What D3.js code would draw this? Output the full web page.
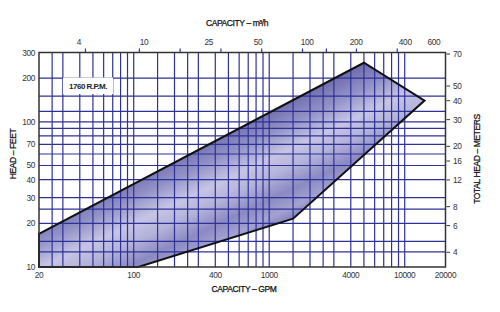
<!DOCTYPE html>
<meta charset="utf-8">
<html lang="en"></html>
<style>
  body { margin: 0; background: #fff; }
  text { font-family: "Liberation Sans", Arial, sans-serif; fill: #222; }
</style>
<script src="https://cdn.jsdelivr.net/npm/d3@7"></script>
<div id="chart"></div>
<script>
    // data
    const gpmTicks = [20, 100, 400, 1000, 4000, 10000, 20000];
    const gpmGrid = [25, 30, 40, 50, 60, 70, 80, 90, 100, 150, 200, 250, 300, 400, 500, 600, 700, 800, 900,
        1000, 1500, 2000, 2500, 3000, 4000, 5000, 6000, 7000, 8000, 9000, 10000];
    const feetTicks = [10, 20, 30, 40, 50, 70, 100, 200, 300];
    const feetGrid = [12.7, 15, 20, 25, 30, 40, 50, 60, 70, 80, 90, 100, 118, 150, 200];
    const meterTicks = [4, 6, 8, 12, 16, 20, 30, 40, 50, 70];
    const m3hTicks = [10, 25, 50, 100, 200, 400, 600, 1000, 2000];
    const m3hLabels = [4, 10, 25, 50, 100, 200, 400, 600];
    const gpmPerM3h = 4.403;

    // operating range outline (GPM, feet)
    const rangeGpm  = [20, 20, 5000, 14000, 1500, 108];
    const rangeFeet = [10, 16.9, 255, 140, 21.5, 10];

    const width = 500, height = 312;
    const pLeft = 39, pRight = 445.5, pTop = 52.5, pBottom = 267;

    const svg = d3.select("#chart")
        .append("svg")
            .attr("width", width)
            .attr("height", height);

    const x = d3.scaleLog().domain([20, 20000]).range([pLeft, pRight]);
    const y = d3.scaleLog().domain([10, 300]).range([pBottom, pTop]);
    // right axis of the original is not an exact conversion, fitted piecewise
    const yM = d3.scaleLog().domain([3.2, 50, 70]).range([pBottom, 86, pTop + 1.5]);
    // top labels sit on their own spacing in the original
    const xLabTop = d3.scaleLog().domain([4, 600]).range([79, 434]);

    // gradient fill
    const grad = svg.append("defs").append("linearGradient")
        .attr("id", "fill")
        .attr("gradientUnits", "userSpaceOnUse")
        .attr("x1", 200).attr("y1", 140)
        .attr("x2", 250).attr("y2", 245);
    [[0, "#6c6aab"], [0.2, "#9190c6"], [0.4, "#c6c5e5"], [0.55, "#b3b2da"],
     [0.72, "#8b89c2"], [0.86, "#a3a2d2"], [1, "#7472b2"]].forEach(function(s) {
        grad.append("stop").attr("offset", s[0]).attr("stop-color", s[1]);
    });

    const pts = rangeGpm.map(function(g, i) { return [x(g), y(rangeFeet[i])]; });
    const line = d3.line();

    svg.append("path")
        .attr("d", line(pts) + "Z")
        .attr("fill", "url(#fill)");

    // grid
    const gridColor = "#2e3196";
    svg.append("g").selectAll("line")
        .data(gpmGrid)
        .enter()
        .append("line")
            .attr("x1", function(d) { return x(d); })
            .attr("x2", function(d) { return x(d); })
            .attr("y1", pTop).attr("y2", pBottom)
            .attr("stroke", gridColor)
            .attr("stroke-width", 1.2);
    svg.append("g").selectAll("line")
        .data(feetGrid)
        .enter()
        .append("line")
            .attr("y1", function(d) { return y(d); })
            .attr("y2", function(d) { return y(d); })
            .attr("x1", pLeft).attr("x2", pRight)
            .attr("stroke", gridColor)
            .attr("stroke-width", 1.2);

    // outline of the range
    svg.append("path")
        .attr("d", line(pts) + "Z")
        .attr("fill", "none")
        .attr("stroke", "#111")
        .attr("stroke-width", 2)
        .attr("stroke-linejoin", "miter");

    // rpm label with white box
    svg.append("rect")
        .attr("x", 63).attr("y", 77.5)
        .attr("width", 50).attr("height", 16.5)
        .attr("fill", "#fff");
    svg.append("text")
        .text("1760 R.P.M.")
        .attr("x", 88).attr("y", 88.5)
        .attr("text-anchor", "middle")
        .style("font-size", "8px")
        .style("font-weight", "bold")
        .style("letter-spacing", "-0.5px");

    // frame
    svg.append("rect")
        .attr("x", pLeft).attr("y", pTop)
        .attr("width", pRight - pLeft).attr("height", pBottom - pTop)
        .attr("fill", "none")
        .attr("stroke", "#333")
        .attr("stroke-width", 1.5);

    const tickFont = function(sel) {
        sel.style("font-size", "8.3px").style("letter-spacing", "-0.35px").style("fill", "#333");
    };
    const titleFont = function(sel) {
        sel.style("font-size", "8.5px").style("letter-spacing", "-0.4px")
            .style("fill", "#111").style("stroke", "#111").style("stroke-width", "0.25px");
    };

    // bottom axis (GPM)
    svg.append("g").selectAll("text")
        .data(gpmTicks)
        .enter()
        .append("text")
            .text(function(d) { return d; })
            .attr("x", function(d) { return x(d); })
            .attr("y", 278)
            .attr("text-anchor", "middle")
            .call(tickFont);
    svg.append("text")
        .text("CAPACITY – GPM")
        .attr("x", 244).attr("y", 292)
        .attr("text-anchor", "middle")
        .call(titleFont);

    // top axis (m3/h)
    svg.append("g").selectAll("line")
        .data(m3hTicks)
        .enter()
        .append("line")
            .attr("x1", function(d) { return x(d * gpmPerM3h); })
            .attr("x2", function(d) { return x(d * gpmPerM3h); })
            .attr("y1", pTop - 4).attr("y2", pTop)
            .attr("stroke", gridColor)
            .attr("stroke-width", 1.2);
    svg.append("g").selectAll("text")
        .data(m3hLabels)
        .enter()
        .append("text")
            .text(function(d) { return d; })
            .attr("x", function(d) { return xLabTop(d); })
            .attr("y", 45)
            .attr("text-anchor", "middle")
            .call(tickFont);
    svg.append("text")
        .text("CAPACITY – m³/h")
        .attr("x", 237).attr("y", 26)
        .attr("text-anchor", "middle")
        .call(titleFont);

    // left axis (feet)
    svg.append("g").selectAll("text")
        .data(feetTicks)
        .enter()
        .append("text")
            .text(function(d) { return d; })
            .attr("x", 35)
            .attr("y", function(d) { return y(d) + 3; })
            .attr("text-anchor", "end")
            .call(tickFont);
    svg.append("text")
        .text("HEAD – FEET")
        .attr("transform", "translate(16,154)rotate(-90)")
        .attr("text-anchor", "middle")
        .call(titleFont);

    // right axis (meters)
    svg.append("g").selectAll("line")
        .data(meterTicks)
        .enter()
        .append("line")
            .attr("x1", pRight + 1).attr("x2", pRight + 4.5)
            .attr("y1", function(d) { return yM(d); })
            .attr("y2", function(d) { return yM(d); })
            .attr("stroke", "#333")
            .attr("stroke-width", 1);
    svg.append("g").selectAll("text")
        .data(meterTicks)
        .enter()
        .append("text")
            .text(function(d) { return d; })
            .attr("x", 453)
            .attr("y", function(d) { return yM(d) + 3; })
            .attr("text-anchor", "start")
            .call(tickFont);
    svg.append("text")
        .text("TOTAL HEAD – METERS")
        .attr("transform", "translate(480,159)rotate(-90)")
        .attr("text-anchor", "middle")
        .call(titleFont);
</script>
